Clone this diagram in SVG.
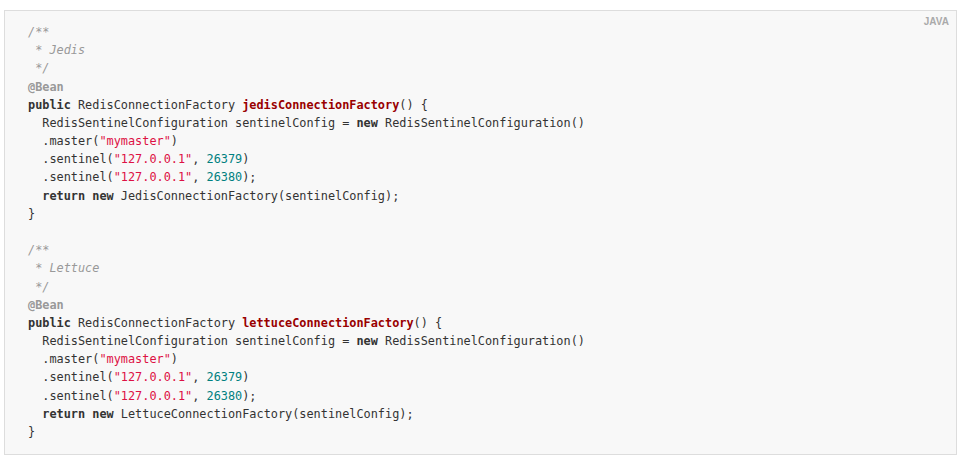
<svg xmlns="http://www.w3.org/2000/svg" width="963" height="462" viewBox="0 0 963 462">
<style>
text{font-family:"DejaVu Sans Mono","Liberation Mono",monospace;font-size:11.86px;fill:#333;white-space:pre}
.c{fill:#999;font-style:italic}
.a{fill:#999;font-weight:bold}
.k{fill:#333;font-weight:bold}
.f{fill:#990000;font-weight:bold}
.s{fill:#dd1144}
.n{fill:#008080}
.l{font-family:"Liberation Sans",Arial,sans-serif;font-size:10px;font-weight:bold;fill:#aaa}
</style>
<rect x="4.5" y="10.5" width="952" height="444" fill="#f8f8f8" stroke="#ddd"/>
<text class="l" x="949" y="25" text-anchor="end">JAVA</text>
<g xml:space="preserve">
<text x="28" y="36" class="c">/**</text>
<text x="28" y="54" class="c"> * Jedis</text>
<text x="28" y="72" class="c"> */</text>
<text x="28" y="91" class="a">@Bean</text>
<text x="28" y="109"><tspan class="k">public</tspan> RedisConnectionFactory <tspan class="f">jedisConnectionFactory</tspan>() {</text>
<text x="28" y="127">  RedisSentinelConfiguration sentinelConfig = <tspan class="k">new</tspan> RedisSentinelConfiguration()</text>
<text x="28" y="145">  .master(<tspan class="s">"mymaster"</tspan>)</text>
<text x="28" y="163">  .sentinel(<tspan class="s">"127.0.0.1"</tspan>, <tspan class="n">26379</tspan>)</text>
<text x="28" y="181">  .sentinel(<tspan class="s">"127.0.0.1"</tspan>, <tspan class="n">26380</tspan>);</text>
<text x="28" y="200">  <tspan class="k">return</tspan> <tspan class="k">new</tspan> JedisConnectionFactory(sentinelConfig);</text>
<text x="28" y="218">}</text>
<text x="28" y="254" class="c">/**</text>
<text x="28" y="272" class="c"> * Lettuce</text>
<text x="28" y="291" class="c"> */</text>
<text x="28" y="309" class="a">@Bean</text>
<text x="28" y="327"><tspan class="k">public</tspan> RedisConnectionFactory <tspan class="f">lettuceConnectionFactory</tspan>() {</text>
<text x="28" y="345">  RedisSentinelConfiguration sentinelConfig = <tspan class="k">new</tspan> RedisSentinelConfiguration()</text>
<text x="28" y="363">  .master(<tspan class="s">"mymaster"</tspan>)</text>
<text x="28" y="381">  .sentinel(<tspan class="s">"127.0.0.1"</tspan>, <tspan class="n">26379</tspan>)</text>
<text x="28" y="400">  .sentinel(<tspan class="s">"127.0.0.1"</tspan>, <tspan class="n">26380</tspan>);</text>
<text x="28" y="418">  <tspan class="k">return</tspan> <tspan class="k">new</tspan> LettuceConnectionFactory(sentinelConfig);</text>
<text x="28" y="436">}</text>
</g>
</svg>
